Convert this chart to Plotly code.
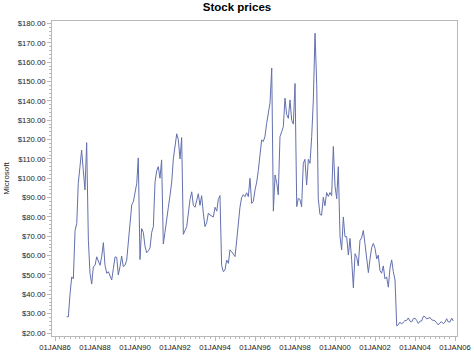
import pandas as pd
import plotly.graph_objects as go

# Monthly closing prices, Microsoft, Aug 1986 - Dec 2005
start_month = "1986-08-01"
close_1986 = [28.4, 28.4, 40, 49, 48]
close_1987 = [73, 76.7, 97.4, 106, 114.6, 104, 94, 118.4, 68, 50.9, 45.3, 54.3]
close_1988 = [55, 59.4, 56.9, 55, 59.4, 66.7, 55, 50.9, 51.7, 49, 47.4, 53.4]
close_1989 = [59.4, 59, 50, 54.3, 59.8, 54.3, 55, 57.6, 68, 80.1, 86.2, 87.9]
close_1990 = [93, 97.4, 110.5, 58, 74, 72, 65, 61.5, 62.5, 64, 72, 75]
close_1991 = [98, 104, 106, 100, 109.5, 66, 72, 80, 85, 91, 98, 110]
close_1992 = [117, 123, 120, 110, 121, 71, 73, 75, 82, 89, 93, 86]
close_1993 = [85, 89, 92, 86, 91, 82, 75, 77, 82, 81, 80.5, 80]
close_1994 = [85, 83, 89, 91, 55, 51.7, 52.5, 57.7, 56, 63, 62, 61]
close_1995 = [59.5, 68, 77, 85, 90, 91.5, 90.5, 92.5, 90.5, 100, 87, 88]
close_1996 = [94, 98, 104, 111, 119.8, 119, 121.7, 128.4, 133.6, 139, 157, 83]
close_1997 = [101.7, 97.4, 91.4, 121.5, 124, 126.7, 141.4, 133, 131, 140.5, 130, 128]
close_1998 = [149, 85.3, 89.6, 89, 85.3, 107.7, 109.8, 96.5, 109.8, 107.7, 121.5, 140.5]
close_1999 = [175, 148.5, 89.6, 81.3, 80.9, 90.2, 85.8, 92.6, 90.6, 92.6, 91, 116.4]
close_2000 = [96, 89.4, 106, 70, 63, 80, 69.8, 69.8, 60.3, 68.9, 57.4, 43.4]
close_2001 = [61, 59, 54.7, 67.8, 69.2, 73, 66.2, 57, 51.2, 58.2, 64.2, 66.3]
close_2002 = [63.7, 58.3, 60.3, 52.3, 50.9, 54.7, 48, 49, 43.7, 53.5, 57.8, 51.7]
close_2003 = [47.4, 23.7, 24.2, 25.6, 24.6, 25.6, 26.4, 26.5, 27.8, 26.1, 25.7, 27.4]
close_2004 = [27.7, 26.5, 24.9, 26.1, 26.2, 28.6, 28.5, 27.3, 27.7, 28.0, 26.8, 26.7]
close_2005 = [26.3, 25.2, 24.2, 25.3, 25.8, 24.8, 25.6, 27.4, 25.7, 25.7, 27.7, 26.2]

x_tick_dates = ["1986-01-01", "1988-01-01", "1990-01-01", "1992-01-01", "1994-01-01",
                "1996-01-01", "1998-01-01", "2000-01-01", "2002-01-01", "2004-01-01",
                "2006-01-01"]
x_tick_labels = ["01JAN86", "01JAN88", "01JAN90", "01JAN92", "01JAN94", "01JAN96",
                 "01JAN98", "01JAN00", "01JAN02", "01JAN04", "01JAN06"]
y_tick_values = [20, 30, 40, 50, 60, 70, 80, 90, 100, 110, 120, 130, 140, 150, 160, 170, 180]
y_tick_labels = ["$%.2f" % v for v in y_tick_values]

close = (close_1986 + close_1987 + close_1988 + close_1989 + close_1990 + close_1991
         + close_1992 + close_1993 + close_1994 + close_1995 + close_1996 + close_1997
         + close_1998 + close_1999 + close_2000 + close_2001 + close_2002 + close_2003
         + close_2004 + close_2005)
dates = pd.date_range(start_month, periods=len(close), freq="MS")

FONT = "Liberation Sans, Arial, sans-serif"
AXIS_GRAY = "#b8b8b8"

fig = go.Figure()
fig.add_trace(go.Scatter(x=dates, y=close, mode="lines",
                         line=dict(color="#6370ad", width=1), showlegend=False))

fig.update_layout(
    width=474, height=355,
    margin=dict(l=52, r=17, t=21, b=19, autoexpand=False),
    paper_bgcolor="white", plot_bgcolor="white",
    font=dict(family=FONT, size=8, color="#222222"),
    title=dict(text="<b>Stock prices</b>", x=0.5, xanchor="center",
               y=1 - 7 / 355, yanchor="middle",
               font=dict(family=FONT, size=11.5, color="black")),
)
fig.update_xaxes(
    type="date", range=["1985-11-06", "2006-02-06"], automargin=False,
    tickmode="array", tickvals=x_tick_dates, ticktext=x_tick_labels,
    ticks="outside", ticklen=4, tickcolor=AXIS_GRAY, tickfont=dict(size=7.7),
    showline=True, linecolor=AXIS_GRAY, linewidth=1, mirror=True,
    showgrid=False, zeroline=False,
    minor=dict(dtick="M3", tick0="1986-01-01", ticks="outside", ticklen=2,
               tickcolor=AXIS_GRAY, showgrid=False),
)
fig.update_yaxes(
    range=[18.45, 181.3], automargin=False,
    tickmode="array", tickvals=y_tick_values, ticktext=y_tick_labels,
    ticks="outside", ticklen=4, tickcolor=AXIS_GRAY, tickfont=dict(size=7.7),
    showline=True, linecolor=AXIS_GRAY, linewidth=1, mirror=True,
    showgrid=False, zeroline=False,
    title=dict(text="Microsoft", standoff=6, font=dict(size=8)),
    minor=dict(dtick=2, tick0=20, ticks="outside", ticklen=2,
               tickcolor=AXIS_GRAY, showgrid=False),
)

fig.write_html("out.html")
